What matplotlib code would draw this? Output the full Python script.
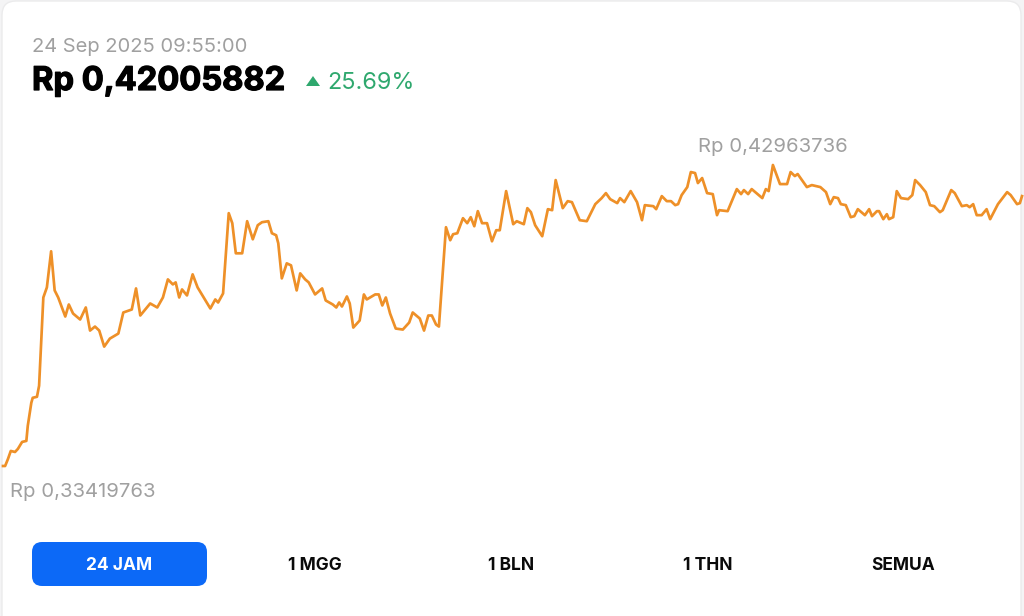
import matplotlib
matplotlib.use('Agg')
import matplotlib.pyplot as plt
import matplotlib.patheffects as pe
from matplotlib.patches import FancyBboxPatch, Polygon

# minutes since the start of the 24 h window
menit = [0, 3, 7, 11, 17, 21, 27, 33, 35, 40, 42, 48, 51, 54, 57, 62, 68, 73, 78, 88,
         93, 99, 109, 117, 123, 130, 136, 143, 151, 163, 170, 182, 188, 194, 208, 218, 226, 233, 240, 244,
         249, 253, 260, 268, 275, 293, 300, 304, 311, 319, 324, 329, 338, 345, 353, 360, 366, 375, 380, 386,
         389, 394, 401, 407, 415, 420, 427, 432, 441, 451, 456, 466, 471, 475, 479, 486, 490, 495, 504, 510,
         514, 526, 531, 536, 541, 547, 555, 565, 574, 579, 589, 595, 601, 606, 612, 616, 626, 632, 636, 642,
         650, 656, 661, 666, 671, 677, 684, 691, 697, 702, 711, 721, 726, 736, 741, 746, 752, 762, 770, 776,
         781, 791, 798, 804, 815, 825, 837, 846, 852, 858, 868, 872, 878, 887, 896, 903, 907, 919, 923, 931,
         938, 944, 950, 954, 959, 967, 972, 978, 982, 988, 995, 1003, 1009, 1012, 1024, 1037, 1043, 1047, 1053, 1058,
         1073, 1078, 1082, 1088, 1098, 1108, 1113, 1119, 1123, 1136, 1143, 1155, 1163, 1169, 1174, 1180, 1184, 1191, 1198, 1203,
         1208, 1218, 1224, 1228, 1235, 1238, 1244, 1249, 1252, 1258, 1263, 1269, 1279, 1285, 1289, 1296, 1304, 1310, 1316, 1324,
         1328, 1340, 1345, 1355, 1362, 1366, 1371, 1376, 1383, 1390, 1395, 1406, 1419, 1424, 1433, 1437, 1440]

harga = [.33436, .33436, .33658, .33912, .33880, .33976, .34198, .34230, .34706, .35436,
         .35595, .35627, .35976, .37406, .38771, .39089, .40232, .38994, .38771, .38168,
         .38549, .38263, .38073, .38454, .37723, .37850, .37723, .37215, .37469, .37628,
         .38295, .38390, .39057, .38200, .38581, .38454, .38771, .39343, .39184, .39248,
         .38771, .39025, .38835, .39502, .39089, .38422, .38708, .38612, .38898, .41439,
         .41122, .40169, .40169, .41185, .40613, .41058, .41153, .41185, .40804, .40740,
         .40486, .39375, .39851, .39788, .38994, .39534, .39343, .39248, .38867, .39057,
         .38676, .38549, .38454, .38612, .38485, .38803, .38581, .37818, .38041, .38867,
         .38708, .38867, .38867, .38517, .38771, .38263, .37787, .37755, .37977, .38295,
         .38104, .37723, .38200, .38200, .37914, .37850, .40994, .40582, .40772, .40804,
         .41280, .41122, .41312, .41026, .41503, .41122, .41122, .40550, .40899, .40899,
         .42138, .41090, .41185, .41090, .41598, .41471, .41058, .40709, .41566, .41534,
         .42487, .41598, .41820, .41788, .41217, .41185, .41725, .41916, .42074, .41884,
         .41757, .41916, .41788, .42138, .41788, .41217, .41693, .41661, .41566, .41979,
         .41820, .41820, .41693, .41725, .42011, .42265, .42741, .42709, .42392, .42551,
         .42074, .42043, .41376, .41534, .41503, .42201, .42043, .42170, .42043, .42201,
         .41916, .42201, .42138, .42964, .42360, .42360, .42741, .42614, .42678, .42265,
         .42328, .42265, .42106, .41725, .41947, .41916, .41725, .41693, .41312, .41344,
         .41566, .41376, .41566, .41344, .41503, .41503, .41249, .41407, .41249, .41312,
         .42138, .41916, .41884, .42011, .42487, .42328, .42106, .41693, .41661, .41471,
         .41534, .42170, .42074, .41661, .41693, .41629, .41725, .41376, .41376, .41566,
         .41249, .41725, .42106, .42011, .41725, .41757, .41979]

tanggal = '24 Sep 2025 09:55:00'
harga_sekarang = 'Rp 0,42005882'
perubahan = '25.69%'
label_maks = 'Rp 0,42963736'
label_min = 'Rp 0,33419763'
tombol = ['24 JAM', '1 MGG', '1 BLN', '1 THN', 'SEMUA']

plt.rcParams['font.family'] = ['Inter', 'DejaVu Sans']

fig = plt.figure(figsize=(10.24, 6.16), dpi=100, facecolor='#f4f4f5')

# pixel overlay for the card, header and buttons
ui = fig.add_axes([0, 0, 1, 1])
ui.set_xlim(0, 1024)
ui.set_ylim(616, 0)
ui.axis('off')

kartu = FancyBboxPatch((2, 1), 1019, 640, boxstyle='round,pad=0,rounding_size=14',
                       facecolor='white', edgecolor='#ebebec', linewidth=1)
ui.add_patch(kartu)

ui.text(32, 47, tanggal, fontsize=14.5, color='#a0a0a0', va='center', ha='left')
judul = ui.text(32, 81.5, harga_sekarang, fontsize=23.5, color='black', fontweight='bold', va='center', ha='left')
judul.set_path_effects([pe.withStroke(linewidth=0.9, foreground='black')])
ui.add_patch(Polygon([(306, 86), (320, 86), (313, 76)], closed=True, facecolor='#2fa86e', edgecolor='none'))
ui.text(327.5, 83, perubahan, fontsize=16.9, color='#2fa86e', va='center', ha='left')

biru = FancyBboxPatch((32, 542), 175, 44, boxstyle='round,pad=0,rounding_size=10',
                      facecolor='#0c69f7', edgecolor='none')
ui.add_patch(biru)
pos_tombol = [119.5, 315, 511.5, 707.5, 903.5]
for i, t in enumerate(tombol):
    warna = 'white' if i == 0 else '#0a0a0a'
    ui.text(pos_tombol[i], 565.5, t, fontsize=12.5, fontweight='bold', color=warna, va='center', ha='center')

# price line
ax = fig.add_axes([3 / 1024, (616 - 466) / 616, 1019 / 1024, 301 / 616])
ax.patch.set_alpha(0)
ax.axis('off')
ax.set_xlim(0, 1440)
ax.set_ylim(min(harga), max(harga))
ax.plot(menit, harga, color='#ee9028', linewidth=1.95, solid_joinstyle='round', clip_on=False)

i_maks = harga.index(max(harga))
ax.annotate(label_maks, xy=(menit[i_maks], harga[i_maks]), xytext=(0, 18), textcoords='offset pixels',
            fontsize=14.6, color='#a0a0a0', ha='center', va='center', annotation_clip=False)
ax.annotate(label_min, xy=(menit[0], harga[0]), xytext=(7, -26), textcoords='offset pixels',
            fontsize=14.6, color='#a0a0a0', ha='left', va='center', annotation_clip=False)

fig.savefig('out.png', dpi=100, facecolor=fig.get_facecolor())
